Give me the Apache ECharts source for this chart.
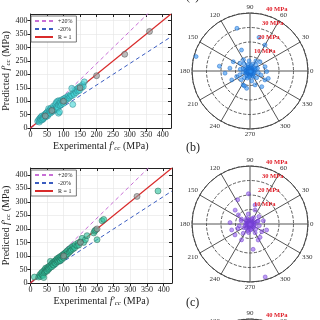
<!DOCTYPE html>
<html>
<head>
<meta charset="utf-8">
<script src="https://cdn.jsdelivr.net/npm/echarts@6/dist/echarts.min.js"></script>
<style>html,body{margin:0;padding:0;background:#fff}</style>
</head>
<body>
<div id="main" style="width: 320px;height: 320px"></div>
<script type="text/javascript">
    // 散点数据 [试验值, 预测值]
    var scatterA = [[22,25],[25,30],[27,22],[28,35],[30,28],[30,38],[32,32],[33,42],[35,30],[35,45],[37,38],[38,33],[40,42],[40,36],[42,48],[43,40],[45,52],[47,42],[48,55],[50,48],[50,58],[52,45],[53,62],[55,52],[55,72],[57,58],[58,65],[60,55],[60,70],[62,62],[63,75],[65,60],[66,68],[68,72],[70,64],[70,82],[72,70],[73,76],[75,68],[76,88],[78,74],[78,95],[80,80],[80,70],[82,100],[83,76],[85,55],[85,86],[86,102],[88,60],[88,92],[90,84],[90,100],[92,95],[94,88],[95,105],[97,98],[100,92],[100,108],[103,100],[105,112],[107,104],[110,115],[112,108],[115,120],[117,112],[120,118],[122,125],[125,120],[128,88],[130,130],[132,125],[135,140],[138,132],[140,145],[143,138],[145,150],[148,140],[150,155],[155,150],[158,162],[160,155],[163,172],[125,148]];
    var grayA = [[45,45],[65,65],[100,100],[150,150],[200,195],[285,275],[360,360]];
    var scatterB = [[12,22],[25,22],[28,30],[30,25],[32,35],[35,30],[35,40],[38,28],[40,45],[40,20],[42,38],[44,50],[45,42],[46,55],[48,46],[50,52],[50,44],[52,58],[54,50],[55,60],[56,54],[58,64],[60,58],[60,80],[62,66],[64,60],[65,72],[67,68],[68,76],[70,66],[72,80],[73,74],[75,82],[76,72],[78,86],[80,78],[80,90],[82,84],[84,92],[85,80],[87,95],[88,86],[90,98],[90,82],[92,92],[94,100],[95,88],[97,104],[98,96],[100,106],[100,94],[103,110],[105,100],[107,114],[108,104],[110,118],[112,108],[115,124],[117,114],[120,128],[120,118],[123,122],[125,134],[128,126],[130,136],[133,130],[135,142],[140,138],[143,148],[145,140],[150,152],[155,165],[160,150],[165,160],[170,175],[190,185],[193,192],[196,196],[200,160],[215,230],[220,235],[383,340]];
    var grayB = [[100,100],[150,150],[200,200],[320,320]];

    // 参考线端点
    var linePlus20 = [[0,0],[425,510]];
    var lineMinus20 = [[0,0],[425,340]];
    var lineR1 = [[0,0],[425,425]];

    // 极坐标误差数据 [半径(MPa), 角度]
    var polarA = [[30.8,107],[24,75],[20.7,60],[38.5,165],[21.4,171],[15.6,112],[11,249],[13.6,338],[13.5,307],[14,172],[13.2,151],
        [17.3,185],[14,206],[8.7,142],[9.4,43],[10.8,16],[11.5,358],[12,329],[10.2,290],[10.7,244],[12.2,259],[10,203],
        [8,60],[7,95],[6.5,130],[7.5,200],[6,230],[7,280],[6.5,315],[8,340],[5.5,20],[5,70],[4.5,110],[5,160],[4.8,190],[5.2,250],[4.6,300],[5.8,350],
        [3.5,10],[3,40],[3.8,80],[3.2,120],[3.6,150],[3,180],[3.4,210],[3.8,240],[3.1,270],[3.5,300],[3.2,330],
        [2.5,0],[2,30],[2.4,60],[2.2,90],[2.6,120],[2,150],[2.3,180],[2.5,210],[2.1,240],[2.4,270],[2.2,300],[2.6,330],
        [1.5,15],[1.2,45],[1.6,75],[1.3,105],[1.5,135],[1.1,165],[1.4,195],[1.6,225],[1.2,255],[1.5,285],[1.3,315],[1.1,345],
        [0.6,20],[0.5,100],[0.7,200],[0.4,280],[0.8,320],[6,45],[6.8,170],[4,25],[4.2,265],[9,120],[8.5,225]];
    var polarB = [[20.9,93],[18.7,117],[38,286],[17.6,277],[12.4,242],[13.8,176],[14,137],[12.4,297],[9.7,327],
        [10.2,142],[13.3,198],[12.8,216],[9.5,14],[12.2,340],[11.5,307],[7.9,234],[10.2,70],[13.5,75],
        [8,40],[7,100],[6.5,160],[7.5,190],[6,260],[7,300],[6.5,350],[5.5,20],[5,60],[4.5,120],[5,210],[4.8,250],[5.2,320],
        [3.5,0],[3,30],[3.8,70],[3.2,110],[3.6,140],[3,170],[3.4,200],[3.8,230],[3.1,260],[3.5,290],[3.2,320],
        [2.5,15],[2,45],[2.4,75],[2.2,105],[2.6,135],[2,165],[2.3,195],[2.5,225],[2.1,255],[2.4,285],[2.2,315],[2.6,345],
        [1.5,0],[1.2,30],[1.6,60],[1.3,90],[1.5,120],[1.1,150],[1.4,180],[1.6,210],[1.2,240],[1.5,270],[1.3,300],[1.1,330],
        [0.6,40],[0.5,140],[0.7,220],[0.4,300],[6,20],[6.8,150],[4,280],[9,200]];

    var angleTicks = 30;
    var ringTicks = 10;
    var serif = 'Liberation Serif';

    var myChart = echarts.init(document.getElementById('main'));

    var grids = [
        {left: 29, top: 14, width: 142, height: 114},
        {left: 29, top: 168, width: 143, height: 115}
    ];

    var xAxes = [], yAxes = [];
    var titleRich = {
        i: {fontStyle: 'italic', fontFamily: serif, fontSize: 10, color: '#222'},
        s: {fontStyle: 'italic', fontFamily: serif, fontSize: 7, color: '#222', padding: [4, 0, 0, 0]}
    };
    grids.forEach(function (g, k) {
        xAxes.push({
            gridIndex: k, type: 'value', min: 0, max: 425, interval: 50, position: 'bottom',
            name: 'Experimental {i|f′}{s|cc} (MPa)', nameLocation: 'middle', nameGap: 13,
            nameTextStyle: {fontFamily: serif, fontSize: 10, color: '#222', rich: titleRich},
            axisLine: {onZero: false, lineStyle: {color: '#222', width: 1}},
            axisTick: {length: 3, lineStyle: {color: '#222'}},
            axisLabel: {fontFamily: serif, fontSize: 8, color: '#222', margin: 3, showMaxLabel: false},
            splitLine: {show: true, lineStyle: {color: '#e4e4e4', width: 0.6}}
        });
        xAxes.push({
            gridIndex: k, type: 'value', min: 0, max: 425, interval: 50, position: 'top',
            axisLine: {onZero: false, lineStyle: {color: '#222', width: 1}},
            axisTick: {inside: true, length: 3, lineStyle: {color: '#222'}},
            axisLabel: {show: false}, splitLine: {show: false}
        });
        yAxes.push({
            gridIndex: k, type: 'value', min: 0, max: 425, interval: 50, position: 'left',
            name: 'Predicted {i|f′}{s|cc} (MPa)', nameLocation: 'middle', nameGap: 17,
            nameTextStyle: {fontFamily: serif, fontSize: 10, color: '#222', rich: titleRich},
            axisLine: {onZero: false, lineStyle: {color: '#222', width: 1}},
            axisTick: {length: 3, lineStyle: {color: '#222'}},
            axisLabel: {fontFamily: serif, fontSize: 8, color: '#222', margin: 3, showMaxLabel: false},
            splitLine: {show: true, lineStyle: {color: '#e4e4e4', width: 0.6}}
        });
        yAxes.push({
            gridIndex: k, type: 'value', min: 0, max: 425, interval: 50, position: 'right',
            axisLine: {onZero: false, lineStyle: {color: '#222', width: 1}},
            axisTick: {inside: true, length: 3, lineStyle: {color: '#222'}},
            axisLabel: {show: false}, splitLine: {show: false}
        });
    });

    var polarCenters = [[250, 71], [250, 224], [250, 377]];
    var polars = [], angleAxes = [], radiusAxes = [];
    polarCenters.forEach(function (c, k) {
        polars.push({center: c, radius: 58});
        polars.push({center: c, radius: 58});
        angleAxes.push({
            polarIndex: 2 * k, type: 'value', min: 0, max: 360, interval: angleTicks,
            startAngle: 0, clockwise: false,
            axisLine: {lineStyle: {color: '#444', width: 1}},
            axisTick: {show: false},
            axisLabel: {fontFamily: serif, fontSize: 7, color: '#333', margin: 2},
            splitLine: {show: true, lineStyle: {color: '#555', width: 1}}
        });
        radiusAxes.push({
            polarIndex: 2 * k, type: 'value', min: 0, max: 40, interval: ringTicks,
            axisLine: {show: false}, axisTick: {show: false}, axisLabel: {show: false},
            splitLine: {show: true, lineStyle: {type: 'dashed', color: '#333', width: 0.8}}
        });
        // 半径标签
        angleAxes.push({
            polarIndex: 2 * k + 1, type: 'value', min: 0, max: 360, startAngle: 74, show: false
        });
        radiusAxes.push({
            polarIndex: 2 * k + 1, type: 'value', min: 0, max: 40, interval: ringTicks, z: 5,
            axisLine: {show: false}, axisTick: {show: false}, splitLine: {show: false},
            axisLabel: {
                formatter: function (v) { return v ? v + ' MPa' : ''; },
                fontFamily: serif, fontSize: 6.5, fontWeight: 'bold', color: '#e0202a',
                margin: 0, align: 'left', verticalAlign: 'bottom', padding: [0, 0, 2, 0]
            }
        });
    });

    var option = {
        animation: false,
        title: [
            {text: '(a)', left: 186, top: -9, padding: 0, textStyle: {fontFamily: serif, fontSize: 12, fontWeight: 'normal', color: '#222'}},
            {text: '(b)', left: 186, top: 142, padding: 0, textStyle: {fontFamily: serif, fontSize: 12, fontWeight: 'normal', color: '#222'}},
            {text: '(c)', left: 186, top: 297, padding: 0, textStyle: {fontFamily: serif, fontSize: 12, fontWeight: 'normal', color: '#222'}}
        ],
        legend: [0, 1].map(function (k) {
            return {
                orient: 'vertical', left: 31, top: grids[k].top + 2,
                itemWidth: 18, itemHeight: 6, itemGap: 2, padding: [2, 4, 2, 3],
                borderColor: '#555', borderWidth: 0.8, backgroundColor: '#fff',
                itemStyle: {opacity: 0},
                textStyle: {fontFamily: serif, fontSize: 6, color: '#222'},
                data: ['+20%', '-20%', 'R = 1']
            };
        }),
        grid: grids,
        xAxis: xAxes,
        yAxis: yAxes,
        polar: polars,
        angleAxis: angleAxes,
        radiusAxis: radiusAxes,
        series: []
    };

    [0, 1].forEach(function (k) {
        var xi = 2 * k, yi = 2 * k;
        option.series.push(
            {name: '+20%', type: 'line', xAxisIndex: xi, yAxisIndex: yi, data: linePlus20, symbol: 'none', z: 3,
                lineStyle: {color: '#c86fd6', width: 1, type: [4, 3]}, itemStyle: {color: '#c86fd6'}},
            {name: '-20%', type: 'line', xAxisIndex: xi, yAxisIndex: yi, data: lineMinus20, symbol: 'none', z: 3,
                lineStyle: {color: '#3a5cc0', width: 1, type: [4, 3]}, itemStyle: {color: '#3a5cc0'}},
            {name: 'R = 1', type: 'line', xAxisIndex: xi, yAxisIndex: yi, data: lineR1, symbol: 'none', z: 3,
                lineStyle: {color: '#d92b2b', width: 1.2}, itemStyle: {color: '#d92b2b'}}
        );
    });
    option.series.push(
        {type: 'scatter', xAxisIndex: 0, yAxisIndex: 0, data: scatterA, symbolSize: 6, z: 4,
            itemStyle: {color: 'rgba(64,214,214,0.75)', borderColor: '#2b7f86', borderWidth: 0.6}},
        {type: 'scatter', xAxisIndex: 0, yAxisIndex: 0, data: grayA, symbolSize: 6, z: 4,
            itemStyle: {color: 'rgba(150,150,150,0.8)', borderColor: '#444', borderWidth: 0.6}},
        {type: 'scatter', xAxisIndex: 2, yAxisIndex: 2, data: scatterB, symbolSize: 6, z: 4,
            itemStyle: {color: 'rgba(52,196,160,0.8)', borderColor: '#22604f', borderWidth: 0.6}},
        {type: 'scatter', xAxisIndex: 2, yAxisIndex: 2, data: grayB, symbolSize: 6, z: 4,
            itemStyle: {color: 'rgba(150,150,150,0.8)', borderColor: '#444', borderWidth: 0.6}},
        {type: 'scatter', coordinateSystem: 'polar', polarIndex: 0, data: polarA, symbolSize: 4, z: 4,
            itemStyle: {color: 'rgba(40,140,240,0.7)', borderColor: '#1a68c8', borderWidth: 0.6}},
        {type: 'scatter', coordinateSystem: 'polar', polarIndex: 2, data: polarB, symbolSize: 4, z: 4,
            itemStyle: {color: 'rgba(140,80,235,0.7)', borderColor: '#6a3ac8', borderWidth: 0.6}}
    );

    myChart.setOption(option);
</script>
</body>
</html>
